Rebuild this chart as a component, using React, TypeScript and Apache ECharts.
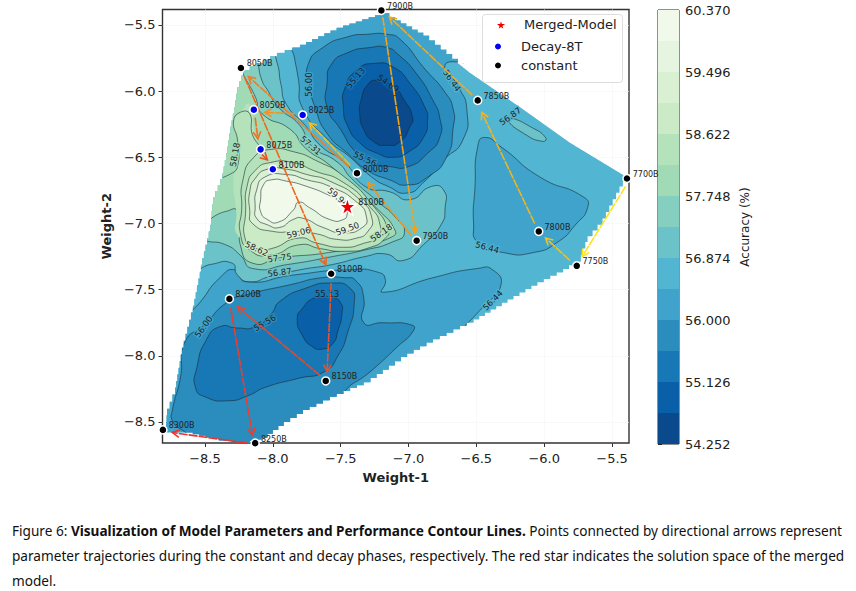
import React, { useEffect, useRef } from "react";
import * as echarts from "echarts";

type P = number[];

const xTicks = [-8.5, -8.0, -7.5, -7.0, -6.5, -6.0, -5.5];
const yTicks = [-5.5, -6.0, -6.5, -7.0, -7.5, -8.0, -8.5];
const accuracyMin = 54.252;
const accuracyMax = 60.37;
const accuracyStep = 0.874;
const bandEdges = [54.252, 54.689, 55.126, 55.563, 56.0, 56.437, 56.874, 57.311, 57.748, 58.185, 58.622, 59.059, 59.496, 59.933, 60.37];
const bandColors = ["#0a4a8c", "#0a60a8", "#1878b6", "#2b8cbe", "#3fa3cc", "#52b5d2", "#6bc2c9", "#84cfc0", "#a0dbb6", "#b4e2bb", "#cbebc6", "#d9f0d3", "#e5f5df", "#f1f9ea"];

const hull: P[] = [[-7.2,-5.41],[-7.14,-5.44],[-6.89,-5.58],[-6.55,-5.86],[-6.18,-6.12],[-5.81,-6.39],[-5.39,-6.65],[-5.42,-6.72],[-5.57,-7.01],[-5.68,-7.14],[-5.73,-7.29],[-5.86,-7.37],[-6.05,-7.47],[-6.27,-7.6],[-6.52,-7.75],[-6.82,-7.9],[-7.01,-8.01],[-7.28,-8.2],[-7.53,-8.31],[-7.73,-8.41],[-7.92,-8.53],[-8.04,-8.62],[-8.17,-8.655],[-8.35,-8.64],[-8.59,-8.58],[-8.74,-8.58],[-8.79,-8.55],[-8.78,-8.4],[-8.72,-8.24],[-8.67,-7.94],[-8.59,-7.62],[-8.52,-7.26],[-8.46,-7.01],[-8.44,-6.8],[-8.37,-6.62],[-8.32,-6.32],[-8.26,-5.97],[-8.22,-5.84],[-7.97,-5.71],[-7.8,-5.65],[-7.53,-5.52]];

const upper5644: P[] = [[-6.55,-5.76],[-6.73,-5.8],[-6.63,-5.97],[-6.57,-6.14],[-6.6,-6.37],[-6.74,-6.52],[-6.89,-6.69],[-7.01,-6.77],[-7.15,-6.72],[-7.27,-6.65],[-7.43,-6.5],[-7.59,-6.37],[-7.78,-6.13],[-7.81,-5.92],[-7.84,-5.75],[-7.87,-5.58],[-7.43,-5.35],[-6.91,-5.35]];
const upper5600: P[] = [[-7.3,-5.57],[-7.45,-5.59],[-7.63,-5.67],[-7.74,-5.8],[-7.73,-5.95],[-7.69,-6.12],[-7.6,-6.32],[-7.45,-6.47],[-7.3,-6.6],[-7.14,-6.67],[-7.01,-6.71],[-6.86,-6.65],[-6.72,-6.5],[-6.67,-6.27],[-6.67,-6.14],[-6.73,-6.01],[-6.89,-5.82],[-7.06,-5.61],[-7.16,-5.57]];
const upper5556: P[] = [[-7.28,-5.67],[-7.45,-5.71],[-7.57,-5.8],[-7.6,-5.94],[-7.6,-6.12],[-7.5,-6.29],[-7.39,-6.46],[-7.28,-6.54],[-7.14,-6.57],[-7.0,-6.57],[-6.86,-6.47],[-6.77,-6.35],[-6.77,-6.2],[-6.82,-6.07],[-6.94,-5.87],[-7.08,-5.72],[-7.16,-5.67]];
const upper5513: P[] = [[-7.25,-5.79],[-7.38,-5.84],[-7.47,-5.98],[-7.48,-6.12],[-7.45,-6.26],[-7.36,-6.39],[-7.23,-6.47],[-7.11,-6.5],[-7.0,-6.46],[-6.89,-6.35],[-6.86,-6.22],[-6.88,-6.12],[-6.99,-5.94],[-7.11,-5.82]];
const upper5469: P[] = [[-7.23,-5.92],[-7.3,-5.95],[-7.35,-6.07],[-7.36,-6.17],[-7.33,-6.29],[-7.26,-6.38],[-7.16,-6.41],[-7.06,-6.38],[-6.99,-6.27],[-6.97,-6.2],[-7.03,-6.07],[-7.11,-5.97]];

const lower5644: P[] = [[-8.65,-7.73],[-8.54,-7.6],[-8.39,-7.41],[-8.28,-7.35],[-8.2,-7.44],[-7.85,-7.39],[-7.43,-7.35],[-7.22,-7.37],[-7.17,-7.43],[-7.19,-7.52],[-6.82,-7.41],[-6.49,-7.34],[-6.38,-7.35],[-6.32,-7.47],[-6.45,-7.63],[-6.62,-7.81],[-6.77,-7.96],[-7.43,-8.49],[-8.09,-8.79],[-8.76,-8.68],[-8.83,-8.18]];
const lower5600: P[] = [[-7.49,-8.3],[-7.27,-8.11],[-7.08,-7.93],[-6.97,-7.82],[-6.97,-7.77],[-7.19,-7.75],[-7.33,-7.75],[-7.33,-7.56],[-7.39,-7.43],[-7.47,-7.41],[-7.64,-7.41],[-7.86,-7.46],[-8.2,-7.54],[-8.33,-7.59],[-8.51,-7.77],[-8.65,-7.9],[-8.68,-8.16],[-8.74,-8.41],[-8.74,-8.49],[-8.67,-8.56],[-8.43,-8.71],[-8.06,-8.75],[-7.65,-8.52],[-7.43,-8.37]];
const lower5556: P[] = [[-8.39,-7.78],[-8.26,-7.79],[-8.13,-7.78],[-8.01,-7.68],[-7.95,-7.59],[-7.76,-7.49],[-7.56,-7.45],[-7.43,-7.49],[-7.4,-7.6],[-7.45,-7.83],[-7.52,-8.0],[-7.62,-8.12],[-7.81,-8.17],[-8.06,-8.24],[-8.18,-8.3],[-8.33,-8.34],[-8.5,-8.31],[-8.57,-8.24],[-8.56,-8.09],[-8.49,-7.88]];
const lower5513: P[] = [[-7.71,-7.57],[-7.78,-7.64],[-7.82,-7.72],[-7.78,-7.85],[-7.71,-7.93],[-7.64,-7.95],[-7.56,-7.91],[-7.52,-7.81],[-7.49,-7.68],[-7.5,-7.6],[-7.56,-7.56],[-7.64,-7.56]];

const right5644: P[] = [[-6.49,-6.42],[-6.44,-6.35],[-6.32,-6.42],[-6.03,-6.65],[-5.71,-6.8],[-5.68,-6.88],[-5.77,-7.01],[-5.9,-7.14],[-6.08,-7.22],[-6.3,-7.22],[-6.49,-7.14],[-6.52,-7.01],[-6.51,-6.72]];
const lens5687: P[] = [[-6.25,-6.2],[-6.1,-6.27],[-5.99,-6.35],[-6.01,-6.38],[-6.15,-6.32],[-6.28,-6.21]];

const hot5687: P[] = [[-8.04,-5.61],[-7.97,-5.78],[-7.94,-5.95],[-7.9,-6.1],[-7.76,-6.26],[-7.65,-6.41],[-7.47,-6.54],[-7.32,-6.72],[-7.14,-6.76],[-6.99,-6.82],[-6.83,-6.72],[-6.74,-6.75],[-6.73,-6.88],[-6.76,-7.01],[-6.89,-7.16],[-7.04,-7.28],[-7.17,-7.23],[-7.32,-7.25],[-7.56,-7.31],[-7.8,-7.35],[-8.02,-7.4],[-8.17,-7.44],[-8.26,-7.39],[-8.3,-7.3],[-8.46,-7.31],[-8.61,-7.35],[-8.68,-6.45],[-8.61,-5.61]];
const hot5731: P[] = [[-8.13,-5.69],[-8.11,-5.79],[-8.08,-5.92],[-8.04,-5.99],[-7.96,-6.12],[-7.8,-6.26],[-7.72,-6.41],[-7.52,-6.54],[-7.42,-6.66],[-7.22,-6.84],[-7.1,-6.95],[-7.03,-7.07],[-7.12,-7.14],[-7.32,-7.2],[-7.56,-7.25],[-7.89,-7.31],[-8.15,-7.34],[-8.24,-7.24],[-8.35,-7.16],[-8.5,-7.13],[-8.61,-7.09],[-8.61,-5.69]];
const hot5775: P[] = [[-8.28,-5.76],[-8.21,-5.89],[-8.13,-6.04],[-8.08,-6.17],[-7.87,-6.29],[-7.76,-6.43],[-7.58,-6.56],[-7.39,-6.75],[-7.22,-6.9],[-7.1,-7.05],[-7.12,-7.1],[-7.32,-7.16],[-7.59,-7.22],[-7.95,-7.26],[-8.15,-7.3],[-8.24,-7.16],[-8.23,-7.01],[-8.26,-6.9],[-8.35,-6.91],[-8.54,-6.96],[-8.61,-6.07],[-8.54,-5.76]];
const lobeFill5818: P[] = [[-8.17,-6.1],[-8.24,-6.16],[-8.29,-6.23],[-8.26,-6.37],[-8.26,-6.57],[-8.29,-6.65],[-8.27,-6.9],[-8.25,-7.1],[-8.1,-7.1],[-8.0,-6.5],[-8.08,-6.43],[-8.13,-6.33]];
const hot5818: P[] = [[-8.23,-6.9],[-8.24,-7.07],[-8.17,-7.2],[-8.02,-7.24],[-7.8,-7.16],[-7.65,-7.19],[-7.47,-7.21],[-7.28,-7.18],[-7.17,-7.11],[-7.15,-7.05],[-7.25,-6.88],[-7.47,-6.65],[-7.69,-6.52],[-7.84,-6.46],[-8.01,-6.44],[-8.14,-6.5],[-8.22,-6.67]];
const hot5862: P[] = [[-8.2,-6.9],[-8.2,-7.13],[-8.12,-7.19],[-8.01,-7.19],[-7.81,-7.11],[-7.67,-7.15],[-7.48,-7.18],[-7.33,-7.15],[-7.23,-7.1],[-7.21,-7.01],[-7.28,-6.88],[-7.48,-6.69],[-7.7,-6.6],[-7.85,-6.54],[-8.02,-6.54],[-8.13,-6.6],[-8.19,-6.72]];
const hot5906: P[] = [[-8.17,-6.9],[-8.15,-7.0],[-8.0,-7.06],[-7.82,-7.06],[-7.67,-7.08],[-7.53,-7.12],[-7.38,-7.11],[-7.3,-7.06],[-7.27,-6.96],[-7.36,-6.82],[-7.58,-6.68],[-7.75,-6.63],[-7.9,-6.59],[-8.04,-6.59],[-8.13,-6.66],[-8.17,-6.76]];
const hot5950: P[] = [[-8.12,-6.96],[-8.04,-7.01],[-7.95,-7.03],[-7.85,-6.97],[-7.78,-6.96],[-7.63,-7.03],[-7.48,-7.07],[-7.34,-7.03],[-7.31,-6.95],[-7.38,-6.84],[-7.58,-6.72],[-7.75,-6.67],[-7.9,-6.63],[-8.06,-6.65],[-8.12,-6.75],[-8.13,-6.88]];
const hot5994: P[] = [[-8.01,-6.67],[-8.07,-6.71],[-8.09,-6.82],[-8.09,-6.91],[-8.04,-6.97],[-7.96,-6.99],[-7.85,-6.9],[-7.81,-6.84],[-7.73,-6.88],[-7.58,-6.97],[-7.48,-6.97],[-7.45,-6.92],[-7.45,-6.86],[-7.58,-6.79],[-7.75,-6.72],[-7.9,-6.68]];

const lobe5818: P[] = [[-8.08,-6.43],[-8.15,-6.33],[-8.17,-6.17],[-8.24,-6.16],[-8.29,-6.23],[-8.26,-6.37],[-8.26,-6.57],[-8.32,-6.63],[-8.43,-6.67]];

const regionShapes: P[][] = [hull, upper5644, upper5600, upper5556, upper5513, upper5469, lower5644, lower5600, lower5556, lower5513, right5644, lens5687, hot5687, hot5731, hot5775, lobeFill5818, hot5818, hot5862, hot5906, hot5950, hot5994];
const regionBands = [5, 4, 3, 2, 1, 0, 4, 3, 2, 1, 4, 6, 6, 7, 8, 9, 9, 10, 11, 12, 13];
const unstrokedRegions = [hull, lobeFill5818];

const contourLabelText = ["54.69", "55.13", "55.56", "56.00", "56.44", "56.87", "57.31", "58.18", "58.18", "59.94", "59.50", "59.06", "58.62", "57.75", "56.87", "56.44", "56.44", "55.13", "55.56", "56.00"];
const contourLabelX = [-7.15, -7.39, -7.32, -7.73, -6.68, -6.25, -7.72, -8.28, -7.2, -7.52, -7.45, -7.81, -8.12, -7.95, -7.95, -6.42, -6.38, -7.6, -8.06, -8.51];
const contourLabelY = [-5.94, -5.9, -6.51, -5.95, -5.92, -6.19, -6.41, -6.48, -7.07, -6.8, -7.04, -7.07, -7.19, -7.26, -7.37, -7.18, -7.58, -7.53, -7.75, -7.78];
const contourLabelAngle = [-35, 50, -25, 90, -55, 35, -40, 80, 35, -40, 20, 15, -25, 8, 8, -15, 45, 0, 30, 55];
const contourLabelBand = [1, 2, 3, 4, 5, 5, 7, 8, 9, 13, 12, 11, 10, 8, 6, 5, 5, 2, 3, 4];

const constantNames = ["7900B", "8050B", "8000B", "7950B", "7850B", "7800B", "7750B", "7700B", "8100B", "8200B", "8150B", "8250B", "8300B"];
const constantX = [-7.2, -8.235, -7.38, -6.94, -6.49, -6.04, -5.76, -5.39, -7.57, -8.32, -7.61, -8.13, -8.81];
const constantY = [-5.39, -5.825, -6.62, -7.13, -6.07, -7.06, -7.32, -6.66, -7.38, -7.57, -8.19, -8.66, -8.56];
const decayNames = ["8050B", "8025B", "8075B", "8100B"];
const decayX = [-8.14, -7.78, -8.09, -8.0];
const decayY = [-6.14, -6.18, -6.44, -6.59];
const mergedNames = ["8100B"];
const mergedX = [-7.45];
const mergedY = [-6.87];

const arrowFromX = [-5.4, -5.81, -6.07, -6.53, -7.19, -6.98, -7.44, -7.43, -7.84, -8.13, -8.08, -8.21, -7.57, -7.65, -8.31, -8.19];
const arrowFromY = [-6.72, -7.28, -7.0, -6.03, -5.44, -7.09, -6.57, -6.56, -6.17, -6.2, -6.48, -5.89, -7.45, -8.15, -7.64, -8.66];
const arrowToX = [-5.72, -5.99, -6.46, -7.14, -6.95, -7.3, -8.18, -7.73, -8.06, -8.11, -8.04, -7.61, -7.6, -8.26, -8.15, -8.74];
const arrowToY = [-7.25, -7.11, -6.16, -5.44, -7.07, -6.69, -5.89, -6.24, -6.16, -6.36, -6.52, -7.31, -8.12, -7.63, -8.6, -8.58];
const arrowColors = ["#ffe11a", "#f2c01e", "#f0b422", "#f0aa20", "#f2a31c", "#f2931e", "#f47c20", "#f2c01e", "#f59020", "#f4701f", "#ee5022", "#f0661f", "#e9522a", "#e8472c", "#e83f2e", "#f0302c"];

const captionLines = [
  "{r|Figure 6: }{b|Visualization of Model Parameters and Performance Contour Lines.}{r| Points connected by directional arrows represent}",
  "{r|parameter trajectories during the constant and decay phases, respectively. The red star indicates the solution space of the merged}",
  "{r|model.}",
];

const STAR = "path://M50 0 L61 35 L98 35 L68 57 L79 91 L50 70 L21 91 L32 57 L2 35 L39 35 Z";
const FONT = "DejaVu Sans";

function stair(pts: number[][], step: number) {
  const out: number[][] = [];
  pts.forEach((a, i) => {
    const b = pts[(i + 1) % pts.length];
    const n = Math.max(1, Math.round(Math.hypot(b[0] - a[0], b[1] - a[1]) / step));
    for (let k = 0; k < n; k++) {
      const x0 = a[0] + ((b[0] - a[0]) * k) / n;
      const y0 = a[1] + ((b[1] - a[1]) * k) / n;
      const x1 = a[0] + ((b[0] - a[0]) * (k + 1)) / n;
      out.push([x0, y0], [x1, y0]);
    }
  });
  return out;
}

function renderContours(_p: any, api: any) {
  const toPx = (pts: P[]) => pts.map((q) => api.coord(q));
  const children: any[] = regionShapes.map((shape, i) => ({
    type: "polygon",
    shape: { points: toPx(shape), smooth: shape === hull ? 0 : 0.6 },
    style: {
      fill: bandColors[regionBands[i]],
      stroke: unstrokedRegions.includes(shape) ? "none" : "#16262e",
      lineWidth: 0.8,
      strokeOpacity: 0.72,
    },
  }));
  children.push({
    type: "polyline",
    shape: { points: toPx(lobe5818), smooth: 0.5 },
    style: { fill: "none", stroke: "#16262e", lineWidth: 0.8, strokeOpacity: 0.72 },
  });
  return {
    type: "group",
    children,
    clipPath: { type: "polygon", shape: { points: stair(toPx(hull), 7) } },
  };
}

function renderArrow(p: any, api: any) {
  const i = p.dataIndex;
  const a = api.coord([api.value(0), api.value(1)]);
  const b = api.coord([api.value(2), api.value(3)]);
  const t = Math.atan2(b[1] - a[1], b[0] - a[0]);
  const h = 8;
  const head = [
    [b[0] - h * Math.cos(t - 0.5), b[1] - h * Math.sin(t - 0.5)],
    [b[0], b[1]],
    [b[0] - h * Math.cos(t + 0.5), b[1] - h * Math.sin(t + 0.5)],
  ];
  const color = arrowColors[i];
  return {
    type: "group",
    children: [
      { type: "line", shape: { x1: a[0], y1: a[1], x2: b[0], y2: b[1] }, style: { stroke: color, lineWidth: 1.6, lineDash: [9, 1] } },
      { type: "polyline", shape: { points: head }, style: { fill: "none", stroke: color, lineWidth: 1.6 } },
    ],
  };
}

function renderContourLabel(p: any, api: any) {
  const i = p.dataIndex;
  const c = api.coord([api.value(0), api.value(1)]);
  return {
    type: "text",
    x: c[0],
    y: c[1],
    rotation: (contourLabelAngle[i] * Math.PI) / 180,
    style: {
      text: contourLabelText[i],
      font: `8.5px "${FONT}"`,
      fill: "#1c2328",
      align: "center",
      verticalAlign: "middle",
      stroke: bandColors[contourLabelBand[i]],
      lineWidth: 2.5,
    },
  };
}

function renderColorBand(p: any, api: any) {
  const lo = api.coord([0, api.value(0)]);
  const hi = api.coord([1, api.value(1)]);
  return {
    type: "rect",
    shape: { x: lo[0], y: hi[1], width: hi[0] - lo[0], height: lo[1] - hi[1] },
    style: { fill: bandColors[p.dataIndex] },
  };
}

const minus = (v: number, d: number) => v.toFixed(d).replace("-", "\u2212");

function pointSeries(name: string, names: string[], xs: number[], ys: number[], symbol: string, size: number, color: string) {
  return {
    name,
    type: "scatter",
    xAxisIndex: 0,
    yAxisIndex: 0,
    symbol,
    symbolSize: size,
    clip: false,
    z: 6,
    itemStyle: { color, borderColor: "#fff", borderWidth: 1.5, opacity: 1 },
    label: {
      show: true,
      position: "right",
      distance: 1,
      offset: [0, -4],
      formatter: (p: any) => p.name,
      fontFamily: FONT,
      fontSize: 8,
      color: "#222",
    },
    data: names.map((n, i) => ({ name: n, value: [xs[i], ys[i]] })),
  };
}

function legendEntry(name: string, top: number, size: number) {
  return {
    show: true,
    data: [name],
    orient: "horizontal",
    left: 493,
    top,
    padding: 0,
    itemWidth: 14,
    itemHeight: size,
    itemGap: 0,
    selectedMode: false,
    textStyle: { fontFamily: FONT, fontSize: 13, color: "#222", padding: [0, 0, 0, 11] },
  };
}

export default function App() {
  const ref = useRef<HTMLDivElement>(null);
  useEffect(() => {
    document.body.style.margin = "0";
    const chart = echarts.init(ref.current!, undefined, { renderer: "svg" });
    const bands = bandColors.map((_, i) => [bandEdges[i], bandEdges[i + 1]]);
    chart.setOption({
      animation: false,
      backgroundColor: "#fff",
      grid: [
        { left: 162.5, top: 9.5, width: 466.5, height: 433.5, show: true, borderColor: "#333", borderWidth: 1.4, backgroundColor: "transparent" },
        { left: 658, top: 10, width: 21, height: 434, show: true, borderColor: "#222", borderWidth: 1, backgroundColor: "transparent" },
      ],
      xAxis: [
        {
          gridIndex: 0, type: "value", min: -8.813, max: -5.375,
          name: "Weight-1", nameLocation: "middle", nameGap: 28,
          nameTextStyle: { fontFamily: FONT, fontWeight: "bold", fontSize: 13, color: "#222" },
          axisLine: { show: false },
          axisTick: { show: true, length: 4, customValues: xTicks, lineStyle: { color: "#333" } },
          axisLabel: { show: true, customValues: xTicks, margin: 9, fontFamily: FONT, fontSize: 13, color: "#222", formatter: (v: number) => minus(v, 1) },
          splitLine: { show: true, customValues: xTicks, lineStyle: { color: "#f0f0f0", type: "dotted", width: 0.8 } },
        },
        { gridIndex: 1, type: "value", min: 0, max: 1, show: false },
      ],
      yAxis: [
        {
          gridIndex: 0, type: "value", min: -8.659, max: -5.383,
          name: "Weight-2", nameLocation: "middle", nameGap: 45,
          nameTextStyle: { fontFamily: FONT, fontWeight: "bold", fontSize: 13, color: "#222" },
          axisLine: { show: false },
          axisTick: { show: true, length: 4, customValues: yTicks, lineStyle: { color: "#333" } },
          axisLabel: { show: true, customValues: yTicks, margin: 7, fontFamily: FONT, fontSize: 13, color: "#222", formatter: (v: number) => minus(v, 1) },
          splitLine: { show: true, customValues: yTicks, lineStyle: { color: "#f0f0f0", type: "dotted", width: 0.8 } },
        },
        {
          gridIndex: 1, type: "value", position: "right",
          min: accuracyMin, max: accuracyMax, interval: accuracyStep,
          name: "Accuracy (%)", nameLocation: "middle", nameGap: 60, nameRotate: 90,
          nameTextStyle: { fontFamily: FONT, fontSize: 12, color: "#222" },
          axisLine: { show: false },
          axisTick: { show: true, length: 4, lineStyle: { color: "#222" } },
          axisLabel: { show: true, margin: 6, fontFamily: FONT, fontSize: 13, color: "#222", formatter: (v: number) => v.toFixed(3) },
          splitLine: { show: false },
        },
      ],
      legend: [legendEntry("Merged-Model", 17, 20), legendEntry("Decay-8T", 40, 8), legendEntry("constant", 59, 8)],
      graphic: [
        { type: "rect", z: 3, left: 482, top: 14, shape: { x: 0, y: 0, width: 140, height: 68, r: 3 }, style: { fill: "rgba(255,255,255,0.85)", stroke: "#dddddd", lineWidth: 1 } },
        ...captionLines.map((line, i) => ({
          type: "text", left: 12, top: 523 + i * 25, z: 3,
          style: {
            text: line,
            rich: {
              r: { font: '13.62px "Noto Sans"', fill: "#111" },
              b: { font: 'bold 13.62px "Noto Sans"', fill: "#111" },
            },
          },
        })),
      ],
      series: [
        { type: "custom", name: "contours", xAxisIndex: 0, yAxisIndex: 0, z: 2, silent: true, renderItem: renderContours, data: [[-7, -7]] },
        { type: "custom", name: "contourLabels", xAxisIndex: 0, yAxisIndex: 0, z: 3, silent: true, renderItem: renderContourLabel, data: contourLabelX.map((x, i) => [x, contourLabelY[i]]) },
        { type: "custom", name: "arrows", xAxisIndex: 0, yAxisIndex: 0, z: 5, silent: true, renderItem: renderArrow, data: arrowFromX.map((x, i) => [x, arrowFromY[i], arrowToX[i], arrowToY[i]]) },
        pointSeries("constant", constantNames, constantX, constantY, "circle", 8, "#000"),
        pointSeries("Decay-8T", decayNames, decayX, decayY, "circle", 8, "#0000ee"),
        pointSeries("Merged-Model", mergedNames, mergedX, mergedY, STAR, 18, "#ee0000"),
        { type: "custom", name: "colorbar", xAxisIndex: 1, yAxisIndex: 1, z: 2, silent: true, renderItem: renderColorBand, data: bands },
      ],
    });
    return () => chart.dispose();
  }, []);
  return <div ref={ref} style={{ position: "absolute", left: 0, top: 0, width: 856, height: 591 }} />;
}
